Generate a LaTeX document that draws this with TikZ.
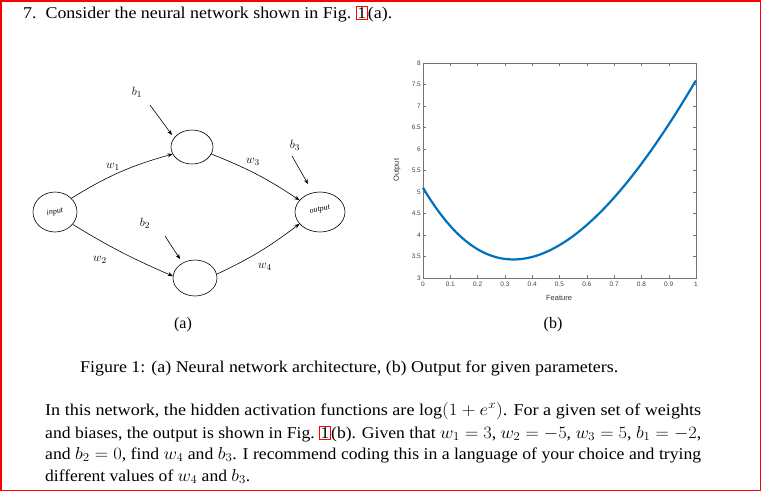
\documentclass[tikz,border=0pt]{standalone}
\usepackage{fontspec}
\setmainfont{Liberation Serif}
\setsansfont{Liberation Sans}
\usepackage{graphicx}
\usetikzlibrary{arrows.meta,shapes.geometric}
\definecolor{mblue}{RGB}{0,114,189}
\newcommand{\rbox}[1]{{\setlength\fboxsep{0.5pt}\setlength\fboxrule{1pt}\fcolorbox{red}{white}{#1}}}
\newcommand{\fitline}[2]{\resizebox{#1}{\height}{#2}}
\begin{document}
\begin{tikzpicture}[x=1pt,y=-1pt,
  neuron/.style={draw,ellipse,line width=0.6pt,inner sep=0pt},
  wire/.style={-{Stealth[length=5pt,width=4pt]},line width=0.6pt},
  hand/.style={font=\fontsize{13}{13}\selectfont},
  nlab/.style={rotate=10,font=\fontsize{8}{8}\selectfont\itshape,inner sep=0pt},
  body/.style={anchor=base west,inner sep=0pt,font=\fontsize{16.5}{18}\selectfont},
  tick/.style={font=\sffamily\fontsize{6.5}{7}\selectfont,text=black!75,inner sep=1pt}]
\useasboundingbox (0,0) rectangle (761,491);
\draw[red,line width=1.5pt] (0.75,0.75) rectangle (760.25,490.25);
% title
\node[body] (title) at (23,18) {\fitline{369pt}{7.\enspace Consider the neural network shown in Fig.~\rbox{1}(a).}};
% network
\node[neuron,minimum width=44pt,minimum height=40pt] (in) at (55,212) {};
\node[nlab] (inl) at (55,212) {input};
\node[neuron,minimum width=42pt,minimum height=34pt] (h1) at (192,147) {};
\node[neuron,minimum width=44pt,minimum height=36pt] (h2) at (195,278) {};
\node[neuron,minimum width=50pt,minimum height=40pt] (out) at (320,212) {};
\node[nlab] (outl) at (320,210) {output};
\draw[wire] (in.40) to[bend left=8] (h1.200);
\draw[wire] (in.-35) to[bend right=4] (h2.175);
\draw[wire] (h1.-20) to[bend left=6] (out.150);
\draw[wire] (h2.10) to[bend right=6] (out.-150);
\node[hand] (b1) at (137,92) {$b_1$};
\coordinate (b1e) at (172,135);
\draw[wire] (150,105) -- (b1e);
\node[hand] (b2) at (145,223) {$b_2$};
\coordinate (b2e) at (180,259);
\draw[wire] (165,236) -- (b2e);
\node[hand] (b3) at (295,145) {$b_3$};
\coordinate (b3e) at (308,184);
\draw[wire] (292,156) -- (b3e);
\node[hand] (w1) at (113,167) {$w_1$};
\node[hand] (w2) at (100,260) {$w_2$};
\node[hand] (w3) at (253,162) {$w_3$};
\node[hand] (w4) at (265,267) {$w_4$};
\node[font=\fontsize{16}{16}\selectfont] (la) at (183,325) {(a)};
% plot
\draw[black!55,line width=0.4pt] (423,63) rectangle (696,278);
\foreach \i/\t in {0/0,1/0.1,2/0.2,3/0.3,4/0.4,5/0.5,6/0.6,7/0.7,8/0.8,9/0.9,10/1}{
  \pgfmathsetmacro\xx{423+27.3*\i}
  \draw[black!55,line width=0.4pt] (\xx,278) -- (\xx,275) (\xx,63) -- (\xx,66);
  \node[tick,anchor=north] at (\xx,281) {\t};
}
\foreach \i/\t in {0/3,1/3.5,2/4,3/4.5,4/5,5/5.5,6/6,7/6.5,8/7,9/7.5,10/8}{
  \pgfmathsetmacro\yy{278-21.5*\i}
  \draw[black!55,line width=0.4pt] (423,\yy) -- (426,\yy) (696,\yy) -- (693,\yy);
  \node[tick,anchor=east] at (422,\yy) {\t};
}
\draw[mblue,line width=2.2pt,domain=0:1,samples=80,smooth]
  plot ({423+273*\x},{278-43*(5*ln(1+exp(3*\x-2))+5*ln(1+exp(-5*\x))+1-3)});
\node[font=\sffamily\fontsize{7.5}{8}\selectfont,text=black!80,rotate=90] (yl) at (397,170) {Output};
\node[font=\sffamily\fontsize{7.5}{8}\selectfont,text=black!80] (xl) at (559,298) {Feature};
\node[font=\fontsize{16}{16}\selectfont] (lb) at (553,325) {(b)};
% caption
\node[body] (cap) at (80,372) {\fitline{538pt}{Figure 1: (a) Neural network architecture, (b) Output for given parameters.}};
% body
\node[body] (l1) at (45,415) {\fitline{656pt}{In this network, the hidden activation functions are $\log(1+e^x)$. For a given set of weights}};
\node[body] (l2) at (45,438) {\fitline{656pt}{and biases, the output is shown in Fig.~\rbox{1}(b). Given that $w_1=3$, $w_2=-5$, $w_3=5$, $b_1=-2$,}};
\node[body] (l3) at (45,459) {\fitline{656pt}{and $b_2=0$, find $w_4$ and $b_3$. I recommend coding this in a language of your choice and trying}};
\node[body] (l4) at (45,481) {\fitline{205pt}{different values of $w_4$ and $b_3$.}};
\end{tikzpicture}
\end{document}
